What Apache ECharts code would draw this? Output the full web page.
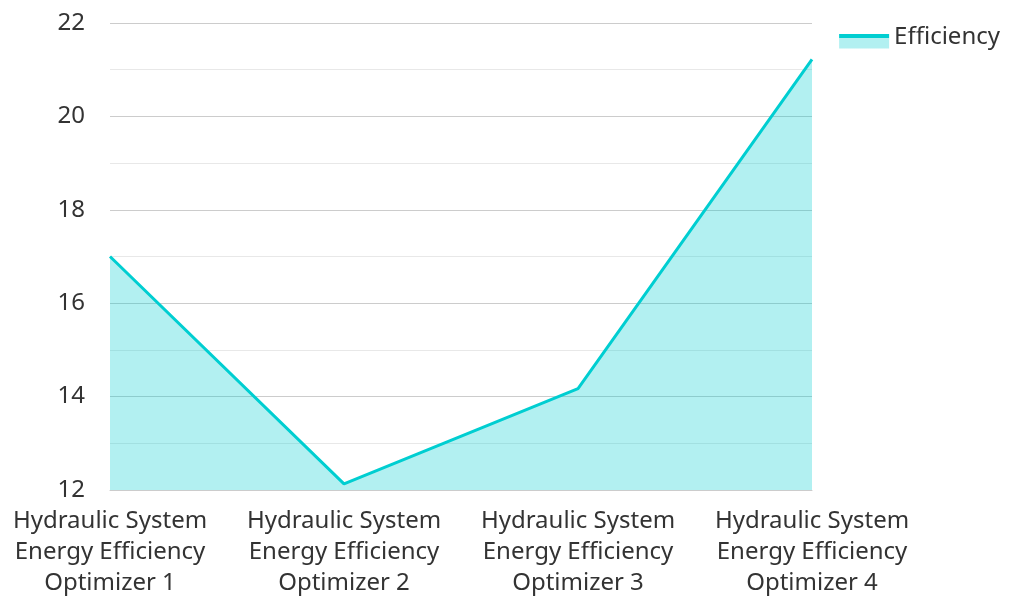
<!DOCTYPE html>
<html>
<head>
<meta charset="utf-8">
<script src="https://cdn.jsdelivr.net/npm/echarts@6/dist/echarts.min.js"></script>
<style>html,body{margin:0;padding:0;background:#fff}#c{width:1009px;height:597px}</style>
</head>
<body>
<div id="c"></div>
<script>
const categories = [
  "Hydraulic System Energy Efficiency Optimizer 1",
  "Hydraulic System Energy Efficiency Optimizer 2",
  "Hydraulic System Energy Efficiency Optimizer 3",
  "Hydraulic System Energy Efficiency Optimizer 4"
];
const efficiency = [17.0, 12.13, 14.17, 21.22];
const seriesName = "Efficiency";

const chart = echarts.init(document.getElementById('c'));
const font = "'Noto Sans', sans-serif";
chart.setOption({
  animation: false,
  textStyle: { fontFamily: font },
  grid: { left: 110, right: 197, top: 23, bottom: 107, outerBoundsMode: 'none' },
  legend: {
    data: [{
      name: seriesName,
      icon: 'rect',
      itemStyle: {
        color: new echarts.graphic.LinearGradient(0, 0, 0, 1, [
          { offset: 0, color: 'rgba(255,255,255,0)' },
          { offset: 0.348, color: 'rgba(255,255,255,0)' },
          { offset: 0.348, color: '#00CED1' },
          { offset: 0.522, color: '#00CED1' },
          { offset: 0.522, color: '#B2F0F1' },
          { offset: 1, color: '#B2F0F1' }
        ])
      }
    }],
    right: 4, top: 20,
    itemWidth: 50, itemHeight: 23, itemGap: 10,
    textStyle: { fontSize: 24, color: '#333', fontFamily: font }
  },
  xAxis: {
    type: 'category',
    data: categories,
    boundaryGap: false,
    axisLine: { lineStyle: { color: '#ccc' } },
    axisTick: { show: false },
    axisLabel: {
      fontSize: 24, color: '#333', lineHeight: 31, margin: 16,
      interval: 0, fontFamily: font,
      formatter: v => v.replace(' Energy', '\nEnergy').replace(' Optimizer', '\nOptimizer')
    }
  },
  yAxis: {
    type: 'value',
    min: 12, max: 22, interval: 2,
    axisLine: { show: false },
    axisTick: { show: false },
    axisLabel: { fontSize: 24, color: '#333', margin: 25, fontFamily: font },
    splitLine: { lineStyle: { color: '#ccc' } },
    minorTick: { show: false, splitNumber: 2 },
    minorSplitLine: { show: true, lineStyle: { color: '#e8e8e8' } }
  },
  series: [{
    name: seriesName,
    type: 'line',
    data: efficiency,
    symbol: 'none',
    lineStyle: { color: '#00CED1', width: 3 },
    itemStyle: { color: '#00CED1' },
    areaStyle: { color: '#00CED1', opacity: 0.3 }
  }]
});
</script>
</body>
</html>
